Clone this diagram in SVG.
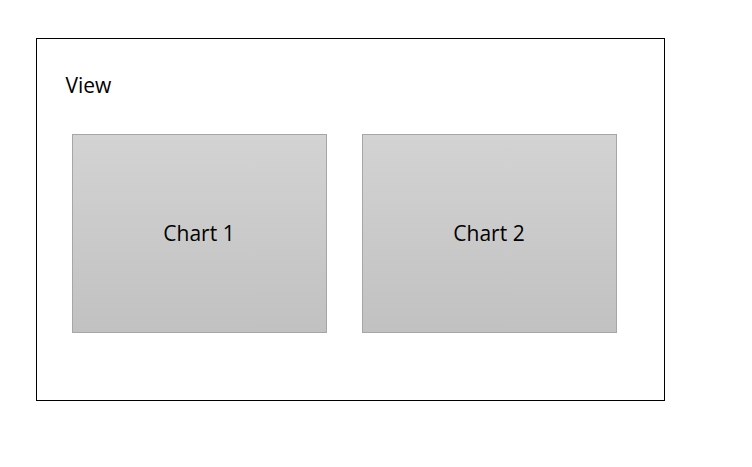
<svg xmlns="http://www.w3.org/2000/svg" width="752" height="467" viewBox="0 0 752 467">
<style>
.t{font-family:"Open Sans","Noto Sans","Liberation Sans",sans-serif;font-size:21px;fill:#000}
.chart{fill:url(#g);stroke:#a6a6a6;stroke-width:1}
</style>
<defs>
<linearGradient id="g" x1="0" y1="0" x2="0" y2="1">
<stop offset="0" stop-color="#d3d3d3"/>
<stop offset="1" stop-color="#c1c1c1"/>
</linearGradient>
</defs>
<rect width="752" height="467" fill="#fff"/>
<g id="view">
<rect x="36.5" y="38.5" width="628" height="362" fill="#fff" stroke="#000" stroke-width="1"/>
<text class="t" x="65.5" y="93">View</text>
</g>
<g id="chart1">
<rect class="chart" x="72.5" y="134.5" width="254" height="198"/>
<text class="t" x="199" y="241" text-anchor="middle">Chart 1</text>
</g>
<g id="chart2">
<rect class="chart" x="362.5" y="134.5" width="254" height="198"/>
<text class="t" x="489" y="241" text-anchor="middle">Chart 2</text>
</g>
<g id="connectors"/>
</svg>
